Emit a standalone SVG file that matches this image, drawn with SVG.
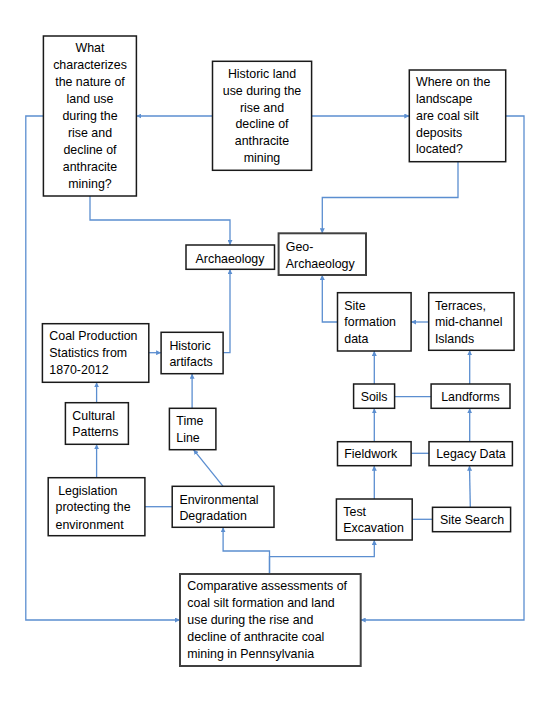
<svg xmlns="http://www.w3.org/2000/svg" width="540" height="720" viewBox="0 0 540 720">
<defs>
<marker id="ah" viewBox="0 0 6 6" refX="6" refY="3" markerWidth="5" markerHeight="5" markerUnits="userSpaceOnUse" orient="auto">
<path d="M0,0 L6,3 L0,6 z" fill="#5b8ed0"/>
</marker>
<style>
.box{fill:#fff;stroke:#1a1a1a;stroke-width:1.5}
.boxg{fill:#fff;stroke:#404040;stroke-width:2}
text{font-family:"Liberation Sans",Arial,sans-serif;font-size:12.4px;fill:#000}
.c{text-anchor:middle}
.con path{fill:none;stroke:#5b8ed0;stroke-width:1.3}
.arr{marker-end:url(#ah)}
</style>
</defs>
<rect width="540" height="720" fill="#fff"/>
<g class="con">
<path class="arr" d="M212.5,116 H136.4"/>
<path class="arr" d="M311.6,116 H409.3"/>
<path class="arr" d="M43.4,116 H25.8 V620 H180"/>
<path class="arr" d="M505.7,116 H524 V620 H360.7"/>
<path class="arr" d="M90,196 V220 H230 V245"/>
<path class="arr" d="M458,161.7 V197.5 H322.3 V233.3"/>
<path class="arr" d="M428.7,322 H411.1"/>
<path class="arr" d="M337.5,322 H322.3 V275"/>
<path class="arr" d="M148.8,352.7 H161.1"/>
<path class="arr" d="M223.1,352.7 H230 V269.3"/>
<path class="arr" d="M374.3,384 V351"/>
<path class="arr" d="M469.7,384 V350.3"/>
<path d="M394.6,396.7 H431.1"/>
<path class="arr" d="M96.6,402.7 V382.3"/>
<path class="arr" d="M192.1,408.3 V373.7"/>
<path class="arr" d="M374.3,441.7 V408.3"/>
<path class="arr" d="M469.7,441.7 V408.3"/>
<path d="M411.1,453.3 H429"/>
<path class="arr" d="M96.6,477.7 V444.3"/>
<path d="M144.9,506.7 H172.2"/>
<path class="arr" d="M223.1,486.3 L193.5,449.7"/>
<path class="arr" d="M374.3,499 V465.7"/>
<path class="arr" d="M470.3,507.3 L469.5,465.7"/>
<path d="M412.2,519.3 H432.5"/>
<path class="arr" d="M269.5,574 V551 H223.1 V527.3"/>
<path class="arr" d="M269.5,574 V556.7 H374.3 V540"/>
</g>
<g id="n-what">
<rect class="box" x="43.4" y="36" width="93" height="160"/>
<text class="c" x="90" y="52.3">What</text>
<text class="c" x="90" y="69.2">characterizes</text>
<text class="c" x="90" y="86.1">the nature of</text>
<text class="c" x="90" y="103">land use</text>
<text class="c" x="90" y="119.9">during the</text>
<text class="c" x="90" y="136.8">rise and</text>
<text class="c" x="90" y="153.7">decline of</text>
<text class="c" x="90" y="170.6">anthracite</text>
<text class="c" x="90" y="187.5">mining?</text>
</g>
<g id="n-historic">
<rect class="box" x="212.5" y="61.3" width="99.1" height="109"/>
<text class="c" x="262" y="78">Historic land</text>
<text class="c" x="262" y="94.8">use during the</text>
<text class="c" x="262" y="111.6">rise and</text>
<text class="c" x="262" y="128.4">decline of</text>
<text class="c" x="262" y="145.2">anthracite</text>
<text class="c" x="262" y="162">mining</text>
</g>
<g id="n-where">
<rect class="box" x="409.3" y="70" width="96.4" height="91.7"/>
<text x="416" y="86.2">Where on the</text>
<text x="416" y="103">landscape</text>
<text x="416" y="119.8">are coal silt</text>
<text x="416" y="136.6">deposits</text>
<text x="416" y="153.4">located?</text>
</g>
<g id="n-archaeology">
<rect class="box" x="186" y="245" width="88.5" height="24.3"/>
<text class="c" x="230" y="262.8">Archaeology</text>
</g>
<g id="n-geo">
<rect class="boxg" x="278.6" y="233.3" width="87.4" height="41.7"/>
<text x="285.8" y="250.5">Geo-</text>
<text x="285.8" y="267.8">Archaeology</text>
</g>
<g id="n-siteformation">
<rect class="box" x="337.5" y="292.7" width="73.6" height="58.3"/>
<text x="344.3" y="309.5">Site</text>
<text x="344.3" y="326.2">formation</text>
<text x="344.3" y="342.9">data</text>
</g>
<g id="n-terraces">
<rect class="box" x="428.7" y="292.7" width="85.4" height="57.6"/>
<text x="434.9" y="309.5">Terraces,</text>
<text x="434.9" y="326.2">mid-channel</text>
<text x="434.9" y="342.9">Islands</text>
</g>
<g id="n-coal">
<rect class="box" x="42.4" y="323.7" width="106.4" height="58.6"/>
<text x="49.3" y="340.2">Coal Production</text>
<text x="49.3" y="356.9">Statistics from</text>
<text x="49.3" y="373.6">1870-2012</text>
</g>
<g id="n-artifacts">
<rect class="box" x="161.1" y="332.3" width="62" height="41.4"/>
<text x="169.4" y="349.5">Historic</text>
<text x="169.4" y="366.2">artifacts</text>
</g>
<g id="n-soils">
<rect class="box" x="353.6" y="384" width="41" height="24.3"/>
<text class="c" x="374.1" y="401.2">Soils</text>
</g>
<g id="n-landforms">
<rect class="box" x="431.1" y="384" width="78.9" height="24.3"/>
<text class="c" x="470.5" y="401.2">Landforms</text>
</g>
<g id="n-cultural">
<rect class="box" x="65.4" y="402.7" width="63" height="41.6"/>
<text x="72.3" y="419.5">Cultural</text>
<text x="72.3" y="436.2">Patterns</text>
</g>
<g id="n-timeline">
<rect class="box" x="169.4" y="408.3" width="46.5" height="41.4"/>
<text x="176.3" y="425.2">Time</text>
<text x="176.3" y="442.2">Line</text>
</g>
<g id="n-fieldwork">
<rect class="box" x="337.5" y="441.7" width="73.6" height="24"/>
<text x="344.3" y="457.8">Fieldwork</text>
</g>
<g id="n-legacy">
<rect class="box" x="429" y="441.7" width="83.4" height="24"/>
<text x="436.2" y="457.8">Legacy Data</text>
</g>
<g id="n-legislation">
<rect class="box" x="48.2" y="477.7" width="96.7" height="58"/>
<text x="58.2" y="494.5">Legislation</text>
<text x="55.5" y="511.2">protecting the</text>
<text x="55.5" y="528.5">environment</text>
</g>
<g id="n-env">
<rect class="box" x="172.2" y="486.3" width="101.8" height="41"/>
<text x="179.4" y="503.5">Environmental</text>
<text x="179.4" y="520.2">Degradation</text>
</g>
<g id="n-test">
<rect class="box" x="336.4" y="499" width="75.8" height="41"/>
<text x="343.3" y="516.2">Test</text>
<text x="343.3" y="532.2">Excavation</text>
</g>
<g id="n-sitesearch">
<rect class="box" x="432.5" y="507.3" width="78.1" height="24.4"/>
<text x="440" y="523.8">Site Search</text>
</g>
<g id="n-comparative">
<rect class="boxg" x="180" y="574" width="180.7" height="92"/>
<text x="187.3" y="590.2">Comparative assessments of</text>
<text x="187.3" y="607.2">coal silt formation and land</text>
<text x="187.3" y="624.4">use during the rise and</text>
<text x="187.3" y="641.2">decline of anthracite coal</text>
<text x="187.3" y="658.4">mining in Pennsylvania</text>
</g>
</svg>
